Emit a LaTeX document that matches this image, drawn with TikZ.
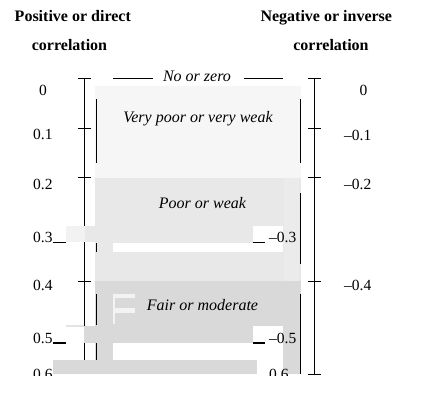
\documentclass[tikz,border=0pt]{standalone}
\usepackage{fontspec}
\setmainfont{Liberation Serif}
\definecolor{bandA}{HTML}{F6F6F6}
\definecolor{bandB}{HTML}{E8E8E8}
\definecolor{bandC}{HTML}{D9D9D9}
\definecolor{stripR}{HTML}{EBEBEB}
\definecolor{glitchA}{HTML}{F2F2F2}
\definecolor{glitchE}{HTML}{F3F3F3}
\definecolor{glitchT}{HTML}{E4E4E4}
\tikzset{
  head/.style={font=\fontsize{16}{19}\selectfont\bfseries, anchor=base, inner sep=0pt},
  num/.style={font=\fontsize{15.5}{18}\selectfont, anchor=base, inner sep=0pt},
  numw/.style={num, anchor=base west},
  cat/.style={font=\fontsize{16}{19}\selectfont\itshape, anchor=base, inner sep=0pt},
  axisline/.style={line width=0.9pt, black},
}
\begin{document}
\begin{tikzpicture}[x=1pt,y=-1pt]
\useasboundingbox (0,0) rectangle (422,392);
\fill[white] (0,0) rectangle (422,392);
\begin{scope}
\clip (0,0) rectangle (422,375);
% bands
\fill[bandA] (95,86) rectangle (300.5,177.7);
\fill[bandB] (95,177.7) rectangle (300.5,281);
\fill[bandC] (95,281) rectangle (300.5,374.3);
\fill[stripR] (284,178) rectangle (299,281);
% glitch rectangles, 0.3 row
\fill[glitchA] (65.5,226) rectangle (84.5,242.3);
\fill[bandB] (84.5,226) rectangle (95,242.3);
\fill[white] (253.3,226) rectangle (283.3,243);
\fill[white] (113.3,243) rectangle (283.3,252);
% glitch, fair row
\fill[glitchE] (112.7,294.3) rectangle (115,324.3);
\fill[glitchE] (112.7,294.3) rectangle (135,297.7);
\fill[glitchE] (112.7,308.3) rectangle (135,313.3);
\fill[glitchT] (65.7,325.3) rectangle (84.3,327);
\fill[bandC] (84.3,325.7) rectangle (253.3,343.3);
\fill[white] (253.3,325.7) rectangle (283.3,374.3);
\fill[white] (113.3,343.3) rectangle (253.3,360);
\fill[bandC] (53.3,360) rectangle (256.7,374.3);
% inner lines
\draw[axisline] (96,99) -- (96,163) (96,243) -- (96,252) (96,294) -- (96,325) (96,343.3) -- (96,360);
\draw[axisline] (300.5,99) -- (300.5,163) (300.5,193) -- (300.5,263.5) (300.5,294) -- (300.5,374.3);
% left axis
\draw[axisline] (84.5,78.7) -- (84.5,226) (84.5,242.3) -- (84.5,325.7) (84.5,343.3) -- (84.5,360);
\foreach \ty in {78.7,128,177.7,281} \draw[axisline] (78,\ty) -- (91,\ty);
% right axis
\draw[axisline] (314.7,78.7) -- (314.7,374.3);
\foreach \ty in {78.7,128,177.7,281,374.3} \draw[axisline] (308,\ty) -- (321,\ty);
% no or zero lines
\draw[axisline] (113,78.3) -- (153,78.3) (244,78.3) -- (283,78.3);
% dashes
\draw[line width=0.9pt] (53.3,242) -- (66,242) (253.3,242) -- (265,242);
\draw[line width=2pt] (53.3,342.7) -- (66,342.7) (253.3,342.7) -- (265,342.7);
% headings
\node[head] (hp1) at (72.8,21.7) {Positive or direct};
\node[head] (hp2) at (69.5,50.7) {correlation};
\node[head] (hn1) at (326.3,21.7) {Negative or inverse};
\node[head] (hn2) at (331,50.7) {correlation};
% categories
\node[cat] (nz) at (197,81.7) {No or zero};
\node[cat] (c1) at (198,122.3) {Very poor or very weak};
\node[cat] (c2) at (202.5,208.3) {Poor or weak};
\node[cat] (c3) at (202.5,310) {Fair or moderate};
% left numbers
\node[num] (l0) at (43,95) {0};
\node[numw] (l1) at (33,139.5) {0.1};
\node[numw] (l2) at (33,189.3) {0.2};
\node[numw] (l3) at (33,242.3) {0.3};
\node[numw] (l4) at (33,290) {0.4};
\node[numw] (l5) at (33,343.3) {0.5};
\node[numw] (l6) at (33,379) {0.6};
% right numbers
\node[num] (r0) at (363.5,95) {0};
\node[numw] (r1) at (344,140) {\textendash0.1};
\node[numw] (r2) at (344,189.3) {\textendash0.2};
\node[numw] (r4) at (344,290) {\textendash0.4};
% inner numbers
\node[numw] (i3) at (269,242.3) {\textendash0.3};
\node[numw] (i5) at (269,343.5) {\textendash0.5};
\node[numw] (i6) at (269,379) {0.6};
\end{scope}
\end{tikzpicture}
\end{document}
